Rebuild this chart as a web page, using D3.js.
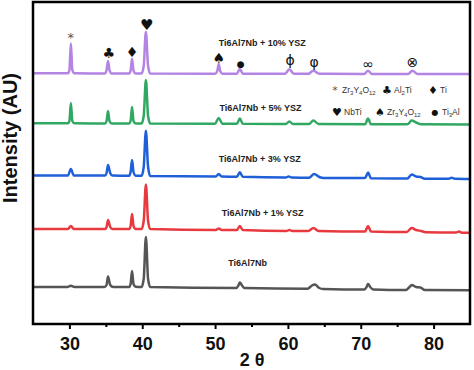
<!DOCTYPE html>
<html>
<head>
<meta charset="utf-8">
<script src="https://cdn.jsdelivr.net/npm/d3@7"></script>
<style>
	body { margin: 0; background: #fff; }
	text { font-family: "Liberation Sans", Arial, sans-serif; }
</style>
</head>
<body>
<script>
// 2theta domain and one diffraction pattern per sample (intensity in a.u., already stacked)
let twoTheta = [25, 85];
let majorTicks = [30, 40, 50, 60, 70, 80];
let minorTicks = [35, 45, 55, 65, 75];

let samples = ["Ti6Al7Nb", "Ti6Al7Nb + 1% YSZ", "Ti6Al7Nb + 3% YSZ", "Ti6Al7Nb + 5% YSZ", "Ti6Al7Nb + 10% YSZ"];
let colors = ["#555555", "#e8393f", "#1f5fd8", "#30a862", "#b484e4"];

let pattern0 = [[25,37],[29.7,37],[30.2,38.3],[30.7,37],[34.8,37],[35.1,39],[35.3,47.5],[35.6,39],[36,37],[38.2,37],[38.4,40],[38.6,53],[38.8,40],[39.1,37.2],[39.9,37],[40.2,45],[40.5,87],[40.8,45],[41.1,37],[52.9,36],[53.2,38.5],[53.4,41.5],[53.7,38.5],[54,36],[62.7,35.3],[63.3,38.5],[63.7,39.5],[64.3,36],[64.8,35],[70.5,34.5],[70.8,37],[71.0,40],[71.3,37],[71.7,34.5],[76.2,34],[76.7,37],[77.0,39],[77.6,37],[78.2,36.5],[78.8,34],[85,33.7]];
let pattern1 = [[25,95],[29.8,95],[30.2,98],[30.6,95],[34.9,95],[35.1,97],[35.3,104],[35.6,97],[35.9,95],[38.2,95],[38.4,98],[38.6,110],[38.8,98],[39.1,95],[39.9,95],[40.2,103],[40.5,139.5],[40.8,103],[41.1,95],[50.1,94],[50.5,95.5],[50.9,94],[53.0,94],[53.4,98],[53.8,94],[59.8,93],[60.2,94],[60.6,93],[62.8,93],[63.5,96],[64.2,93],[70.6,92.5],[71.0,98],[71.4,92.5],[76.3,92],[77.0,96],[77.6,94],[78.3,93],[78.9,91.8],[83.1,91.5],[83.5,92.5],[83.9,91.3],[85,91.3]];
let pattern3 = [[25,148.5],[29.8,148.5],[30.2,155],[30.6,148.5],[34.9,148.5],[35.1,151],[35.3,159],[35.6,151],[35.9,148.5],[38.2,148.3],[38.4,152],[38.6,164],[38.8,152],[39.1,148.3],[39.9,148.2],[40.2,157],[40.5,193.3],[40.8,157],[41.1,148],[50.1,147.5],[50.5,150],[50.9,147.5],[53.0,147.3],[53.4,151.7],[53.8,147.2],[59.7,146.5],[60.1,147.5],[60.5,146.5],[62.9,146.3],[63.6,150],[64.3,147],[64.9,146],[70.6,146],[71.0,151.5],[71.4,145.8],[76.4,145.5],[77.0,149.5],[77.6,147.5],[78.2,147],[78.8,145.3],[82.1,145.3],[82.5,146.3],[82.9,145.2],[85,145]];
let pattern5 = [[25,200.7],[29.8,200.7],[30.0,203],[30.2,221],[30.4,203],[30.7,200.7],[34.9,200.6],[35.1,203],[35.3,213],[35.5,203],[35.8,200.6],[38.2,200.5],[38.4,203],[38.6,217],[38.8,203],[39.1,200.5],[39.9,200.5],[40.2,208],[40.5,244],[40.8,208],[41.1,200.4],[50.0,200.3],[50.5,206],[51.0,200.3],[53.0,200.2],[53.4,205.5],[53.8,200.2],[59.7,200],[60.2,202.5],[60.7,200],[62.9,200],[63.5,203.5],[64.2,200],[70.6,199.8],[71.0,205.5],[71.4,199.8],[76.4,199.7],[77.0,203.5],[77.6,201.5],[78.3,199.7],[85,199.5]];
let pattern10 = [[25,250.7],[29.8,250.7],[30.0,254],[30.2,280.7],[30.4,254],[30.7,250.7],[34.9,250.6],[35.1,254],[35.3,263],[35.5,254],[35.8,250.6],[38.2,250.5],[38.4,253.5],[38.6,265.3],[38.8,253.5],[39.1,250.5],[39.9,250.5],[40.2,258],[40.5,292.3],[40.8,258],[41.1,250.4],[50.0,250.3],[50.3,253],[50.5,260],[50.7,253],[51.0,250.3],[53.0,250.3],[53.4,255],[53.8,250.3],[59.6,250.2],[60.2,254.7],[60.8,250.2],[62.8,250.2],[63.5,253.3],[64.3,250.2],[70.5,250.1],[71.0,253.3],[71.5,250.1],[76.5,250],[77.1,253.3],[77.8,250],[85,250]];
let patterns = [pattern0, pattern1, pattern3, pattern5, pattern10];

// where each sample name sits: [2theta, intensity]
let sampleLabelPos = [[51.8, 58], [50.9, 108], [50.5, 162], [50.6, 213], [50.5, 278]];

// phase markers over the 10% YSZ pattern: [symbol, 2theta, intensity]
let peakMarks = [["*", 30.2, 287], ["♣", 35.4, 270.7], ["♦", 38.6, 271.7], ["♥", 40.6, 299],
	["♠", 50.5, 265.7], ["●", 53.5, 259.7], ["ϕ", 60.3, 264], ["φ", 63.6, 261.7],
	["∞", 71.0, 259.7], ["⊗", 77.1, 261.7]];

// phase legend
let legendSymbols = ["*", "♣", "♦", "♥", "♠", "●"];
let legendPhases = ["Zr3Y4O12", "Al2Ti", "Ti", "NbTi", "Zr3Y4O12", "Ti3Al"];

let width = 474, height = 370;
let margin = {left: 33, right: 4, top: 2, bottom: 46};

let svg = d3.select("body").append("svg")
	.attr("width", width)
	.attr("height", height);

let x = d3.scaleLinear()
	.domain(twoTheta)
	.range([margin.left, width - margin.right]);

let y = d3.scaleLinear()
	.domain([0, 322])
	.range([height - margin.bottom, margin.top]);

svg.append("clipPath").attr("id", "plot")
	.append("rect")
	.attr("x", margin.left).attr("y", margin.top)
	.attr("width", width - margin.left - margin.right)
	.attr("height", height - margin.top - margin.bottom);

let line = d3.line()
	.x(d => x(d[0]))
	.y(d => y(d[1]))
	.curve(d3.curveMonotoneX);

svg.append("g")
	.attr("clip-path", "url(#plot)")
	.selectAll("path")
	.data(patterns)
	.enter().append("path")
	.attr("d", line)
	.attr("fill", "none")
	.attr("stroke", (d, i) => colors[i])
	.attr("stroke-width", 2.5)
	.attr("stroke-linejoin", "round");

svg.append("g")
	.selectAll("text")
	.data(samples)
	.enter().append("text")
	.attr("x", (d, i) => x(sampleLabelPos[i][0]))
	.attr("y", (d, i) => y(sampleLabelPos[i][1]))
	.attr("font-size", 9)
	.attr("font-weight", "bold")
	.attr("fill", "#222")
	.text(d => d);

let symbolSize = {"*": 13, "♣": 14, "♦": 14, "♥": 15, "♠": 14, "●": 9, "ϕ": 14, "φ": 14, "∞": 14, "⊗": 14};
let symbolColor = {"*": "#555"};

svg.append("g")
	.selectAll("text")
	.data(peakMarks)
	.enter().append("text")
	.attr("x", d => x(d[1]))
	.attr("y", d => y(d[2]))
	.attr("text-anchor", "middle")
	.attr("dominant-baseline", "central")
	.style("font-family", "'DejaVu Sans', sans-serif")
	.attr("font-size", d => symbolSize[d[0]])
	.attr("fill", d => symbolColor[d[0]] || "#111")
	.text(d => d[0]);

// legend, two rows of three
let legendX = [[335, 387, 433], [337, 380, 435]];
let legendY = [90, 112];

let legend = svg.append("g");
legendSymbols.forEach((s, i) => {
	let row = Math.floor(i / 3);
	let cx = legendX[row][i % 3];
	legend.append("text")
		.attr("x", cx).attr("y", legendY[row])
		.attr("text-anchor", "middle")
		.attr("dominant-baseline", "central")
		.style("font-family", "'DejaVu Sans', sans-serif")
		.attr("font-size", s == "●" ? 8 : 11)
		.attr("fill", s == "*" ? "#555" : "#111")
		.text(s);

	let t = legend.append("text")
		.attr("x", cx + 7).attr("y", legendY[row] + 3)
		.attr("font-size", 8.5)
		.attr("fill", "#333");
	let prevSub = false;
	legendPhases[i].match(/[A-Za-z]+|\d+/g).forEach(part => {
		let sub = /\d/.test(part);
		t.append("tspan")
			.attr("font-size", sub ? 6 : 8.5)
			.attr("dy", sub == prevSub ? 0 : (sub ? 2 : -2))
			.text(part);
		prevSub = sub;
	});
});

// x axis
let xAxis = svg.append("g")
	.attr("transform", `translate(0,${height - margin.bottom})`)
	.call(d3.axisBottom(x).tickValues(majorTicks).tickSize(5).tickPadding(8).tickFormat(d3.format("d")));
xAxis.select(".domain").remove();
xAxis.selectAll("line").attr("stroke", "#000").attr("stroke-width", 2);
xAxis.selectAll("text")
	.attr("font-size", 18)
	.attr("font-weight", "bold")
	.attr("font-family", "'Liberation Sans', Arial, sans-serif")
	.attr("fill", "#111");

let xMinor = svg.append("g")
	.attr("transform", `translate(0,${height - margin.bottom})`)
	.call(d3.axisBottom(x).tickValues(minorTicks).tickSize(3).tickFormat(""));
xMinor.select(".domain").remove();
xMinor.selectAll("line").attr("stroke", "#000").attr("stroke-width", 2);

// frame
svg.append("rect")
	.attr("x", margin.left).attr("y", margin.top)
	.attr("width", width - margin.left - margin.right)
	.attr("height", height - margin.top - margin.bottom)
	.attr("fill", "none")
	.attr("stroke", "#000")
	.attr("stroke-width", 2.5);

svg.append("text")
	.attr("x", 252).attr("y", 366)
	.attr("text-anchor", "middle")
	.attr("font-size", 18)
	.attr("font-weight", "bold")
	.attr("fill", "#111")
	.text("2 θ");

svg.append("text")
	.attr("transform", "translate(17,138) rotate(-90)")
	.attr("text-anchor", "middle")
	.attr("font-size", 20)
	.attr("font-weight", "bold")
	.attr("fill", "#111")
	.text("Intensity (AU)");
</script>
</body>
</html>
